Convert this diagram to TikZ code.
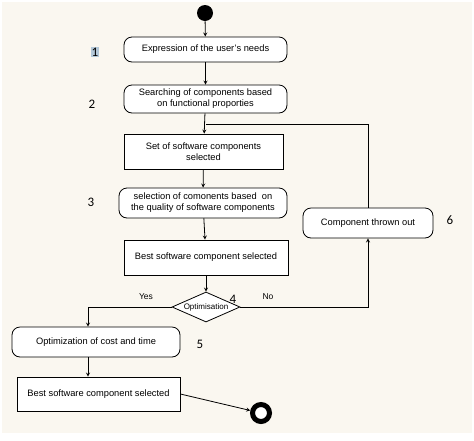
\documentclass[tikz,border=0pt]{standalone}
\usepackage{fontspec}
\setmainfont{Liberation Sans}
\newfontfamily\numfont{Carlito}
\usetikzlibrary{shapes.geometric}
\definecolor{paper}{RGB}{250,247,240}
\definecolor{mark}{RGB}{180,200,216}
\tikzset{
  every path/.style={line width=0.8pt},
  act/.style={draw, rounded corners=8pt, fill=white, align=center, inner sep=0pt, font=\fontsize{9.3}{11}\selectfont},
  state/.style={draw, fill=white, align=center, inner sep=0pt, font=\fontsize{9.3}{11}\selectfont},
  num/.style={font=\numfont\fontsize{13}{15}\selectfont, inner sep=1pt},
  flow/.style={->, >=stealth},
}
\begin{document}
\begin{tikzpicture}[x=1pt, y=-1pt]

\useasboundingbox (0,0) rectangle (474,440);
\fill [white] (0,0) rectangle (474,440);
\fill [paper] (2,2) rectangle (472,433);

\node [circle, fill=black, minimum size=16pt, inner sep=0pt] (start) at (205,13) {};

\node [act, minimum width=163pt, minimum height=25pt] (need) at (205.5,49.5) {Expression of the user's needs};
\node [act, minimum width=163pt, minimum height=28pt] (search) at (205.5,99) {Searching of components based\\on functional proporties};
\node [state, minimum width=159pt, minimum height=35pt] (set) at (203.5,151.5) {Set of software components\\selected};
\node [act, minimum width=168pt, minimum height=30pt] (qual) at (203,203) {selection of comonents based\ \ on\\the quality of software components};
\node [state, minimum width=164pt, minimum height=35pt] (best) at (206,257.5) {Best software component selected};
\node [diamond, draw, fill=white, minimum width=68pt, minimum height=30pt, inner sep=0pt, aspect=2.27,
       font=\fontsize{8}{9}\selectfont] (opt) at (206,307) {Optimisation};
\node [act, minimum width=130pt, minimum height=30pt] (out) at (368,223) {Component thrown out};
\node [act, minimum width=168pt, minimum height=30pt] (cost) at (96,342) {Optimization of cost and time};
\node [state, minimum width=163pt, minimum height=34pt] (final) at (98.5,394) {Best software component selected};

\node [circle, draw=black, line width=5pt, fill=white, minimum size=17pt, inner sep=0pt] (stop) at (261,413) {};

% numbers
\node [num, fill=mark] (n1) at (95,52) {1};
\node [num] (n2) at (92,104) {2};
\node [num] (n3) at (91,202) {3};
\node [num] (n4) at (233,299) {4};
\node [num] (n5) at (200,344) {5};
\node [num] (n6) at (450,220) {6};

\node [font=\fontsize{8.5}{10}\selectfont] (yes) at (146,297) {Yes};
\node [font=\fontsize{8.5}{10}\selectfont] (no) at (268,297) {No};

\draw [flow] (start) -- (need);
\draw [flow] (need) -- (search);
\draw [flow] (search) -- (set);
\draw [flow] (set) -- (qual);
\draw [flow] (qual) -- (best);
\draw [flow] (best.south -| opt.north) -- (opt.north);
\draw [flow] (opt.west) -| (cost.north -| 88,0);
\draw [flow] (opt.east) -| (out.south);
\draw (out.north) |- (search.south |- 0,124);
\draw [flow] (cost.south -| 88,0) -- (final.north -| 88,0);
\draw [flow] (final.east) -- (stop);

\end{tikzpicture}
\end{document}
